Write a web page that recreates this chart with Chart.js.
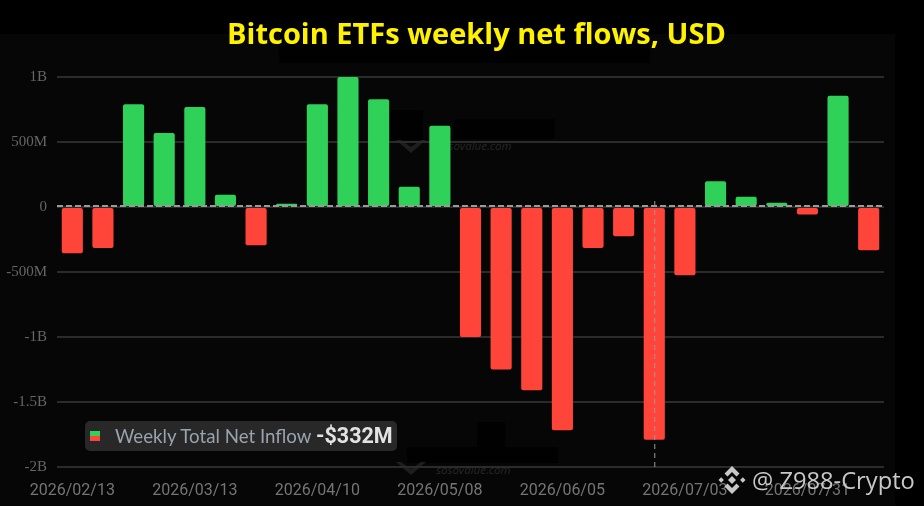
<!DOCTYPE html>
<html>
<head>
<meta charset="utf-8">
<script src="https://cdn.jsdelivr.net/npm/chart.js@4"></script>
<style>
html, body { margin: 0; padding: 0; background: #000; }
#wrap { position: relative; width: 924px; height: 506px; overflow: hidden; background: #000; }
#panel { position: absolute; left: 0; top: 34px; width: 895px; height: 472px; background: #060606; }
.patch { position: absolute; background: #010101; }
.chev { position: absolute; }
#my { position: absolute; left: 0; top: 0; }
#title { position: absolute; left: 0; top: 13px; width: 953px; text-align: center; color: #fff200; font: bold 29px "Open Sans", sans-serif; line-height: 40px; }
#legend { position: absolute; left: 85px; top: 421px; width: 312px; height: 30px; background: #282828; border-radius: 5px; font-family: Lato, sans-serif; line-height: 30px; white-space: nowrap; }
#legend i { position: absolute; left: 5px; top: 10px; width: 10px; height: 5px; background: #30d158; }
#legend b { position: absolute; left: 5px; top: 15px; width: 10px; height: 5px; background: #ff453a; }
#legend span { position: absolute; left: 30px; top: 0; font-size: 18.7px; color: #9aa3ad; }
#legend strong { position: absolute; left: 231px; top: 0; font: bold 21.5px Roboto, sans-serif; line-height: 30px; color: #e3e3e3; }
.soso { position: absolute; font: italic 11.5px "Open Sans", sans-serif; color: #262626; }
#mark { position: absolute; left: 752px; top: 463px; font: 23.7px "Open Sans", sans-serif; line-height: 34px; color: #c8c8c8; white-space: nowrap; }
#logo { position: absolute; left: 718px; top: 466px; }
</style>
</head>
<body>
<div id="wrap">
  <div id="panel"></div>
  <div class="patch" style="left:279px;top:21px;width:371px;height:42px"></div>
  <div class="patch" style="left:390px;top:110px;width:33px;height:30px"></div>
  <div class="patch" style="left:454px;top:119px;width:101px;height:20px"></div>
  <div class="patch" style="left:477px;top:422px;width:28px;height:26px"></div>
  <div class="patch" style="left:407px;top:447px;width:151px;height:16px"></div>
  <svg class="chev" style="left:396px;top:138px" width="30" height="15" viewBox="0 0 30 15"><path d="M0 2l15 13 15-13-5 0-10 7-10-7z" fill="#1e1e1e"/></svg>
  <svg class="chev" style="left:396px;top:460px" width="30" height="15" viewBox="0 0 30 15"><path d="M0 2l15 13 15-13-5 0-10 7-10-7z" fill="#1e1e1e"/></svg>
  <div class="soso" style="left:437px;top:138px">sosovalue.com</div>
  <div class="soso" style="left:436px;top:462px">sosovalue.com</div>
  <canvas id="my" width="924" height="506"></canvas>
  <div id="title">Bitcoin ETFs weekly net flows, USD</div>
  <div id="legend"><i></i><b></b><span>Weekly Total Net Inflow</span><strong>-$332M</strong></div>
  <svg id="logo" width="28" height="28" viewBox="0 0 28 28" fill="#c8c8c8">
    <path d="M14 0l7.5 7.5-3 3L14 6l-4.5 4.5-3-3z"/>
    <path d="M14 28l-7.5-7.5 3-3L14 22l4.5-4.5 3 3z"/>
    <path d="M0.5 14l2.7-2.7 2.7 2.7-2.7 2.7zM22.1 14l2.7-2.7 2.7 2.7-2.7 2.7zM10 14l4-4 4 4-4 4z"/>
  </svg>
  <div id="mark">@ Z988-Crypto</div>
</div>
<script>
var weeks = ["2026/02/13","2026/02/20","2026/02/27","2026/03/06","2026/03/13","2026/03/20","2026/03/27",
    "2026/04/03","2026/04/10","2026/04/17","2026/04/24","2026/05/01","2026/05/08","2026/05/15",
    "2026/05/22","2026/05/29","2026/06/05","2026/06/12","2026/06/19","2026/06/26","2026/07/03",
    "2026/07/10","2026/07/17","2026/07/24","2026/07/31","2026/08/07","2026/08/14"];
// weekly net inflow, millions of USD
var flows = [-355,-315,790,570,770,95,-295,25,790,1000,828,155,625,-1000,-1250,-1410,-1718,-315,-225,-1790,-525,198,78,33,-58,855,-332];
var crosshairWeek = "2026/06/26";
var yTicks = {"1000":"1B","500":"500M","0":"0","-500":"-500M","-1000":"-1B","-1500":"-1.5B","-2000":"-2B"};

var zeroAndCross = {
    id: 'zeroAndCross',
    afterDatasetsDraw: function (chart) {
        var c = chart.ctx, area = chart.chartArea;
        var y0 = chart.scales.y.getPixelForValue(0) - 1;
        var x = chart.scales.x.getPixelForValue(weeks.indexOf(crosshairWeek));
        c.save();
        c.strokeStyle = '#9a9a9a';
        c.lineWidth = 2;
        c.setLineDash([6, 3]);
        c.beginPath(); c.moveTo(area.left, y0); c.lineTo(area.right, y0); c.stroke();
        c.lineWidth = 1;
        c.setLineDash([5, 4]);
        c.beginPath(); c.moveTo(x + 0.5, y0 - 5); c.lineTo(x + 0.5, area.bottom); c.stroke();
        c.restore();
    }
};

var ctx = document.getElementById("my").getContext('2d');
var myChart = new Chart(ctx, {
    type: 'bar',
    plugins: [zeroAndCross],
    data: {
        labels: weeks,
        datasets: [{
            data: flows,
            backgroundColor: flows.map(function (v) { return v >= 0 ? '#30d158' : '#ff453a'; }),
            barPercentage: 0.69,
            categoryPercentage: 1,
            borderRadius: 2,
            borderSkipped: false
        }]
    },
    options: {
        responsive: false,
        devicePixelRatio: 1,
        animation: false,
        layout: { padding: { top: 77, right: 40, left: 0, bottom: 0 } },
        plugins: { legend: { display: false }, title: { display: false }, tooltip: { enabled: false } },
        scales: {
            x: {
                afterFit: function (s) { s.height = 39; },
                grid: { display: false },
                border: { display: false },
                ticks: {
                    autoSkip: false,
                    maxRotation: 0,
                    padding: 6,
                    color: '#757575',
                    font: { family: 'Roboto', size: 16 },
                    callback: function (v, i) { return i % 4 === 0 ? weeks[i] : ''; }
                }
            },
            y: {
                min: -2000,
                max: 1000,
                afterFit: function (s) { s.width = 57; },
                grid: { color: '#2b2b2b', lineWidth: 2, drawTicks: false },
                border: { display: false },
                ticks: {
                    stepSize: 500,
                    padding: 10,
                    color: '#666666',
                    font: { family: 'Liberation Serif', size: 15 },
                    callback: function (v) { return yTicks[v]; }
                }
            }
        }
    }
});
</script>
</body>
</html>
